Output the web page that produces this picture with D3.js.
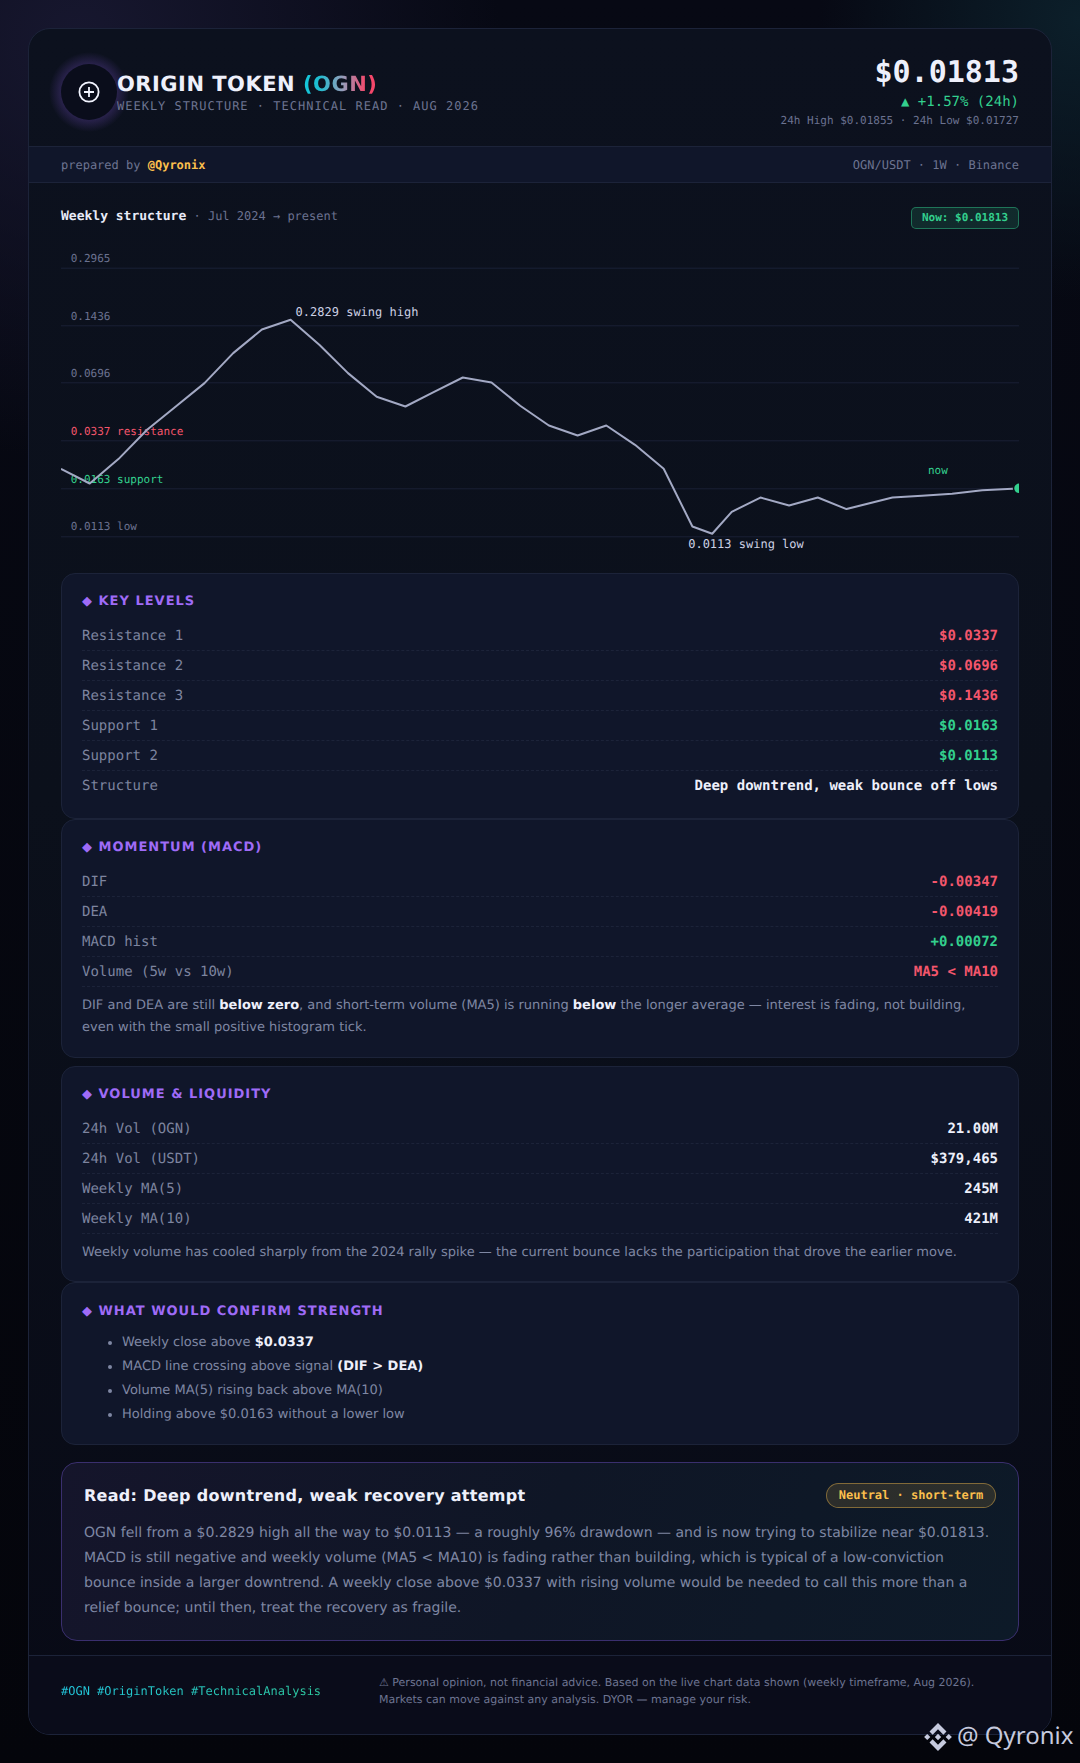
<!DOCTYPE html>
<html><head><meta charset="utf-8">
<script src="https://cdnjs.cloudflare.com/ajax/libs/d3/7.8.5/d3.min.js"></script>
<style>
*{box-sizing:border-box;margin:0;padding:0}
html,body{width:1080px;height:1763px;overflow:hidden}
body{position:relative;font-family:"DejaVu Sans",sans-serif;color:#e8ebf8;text-rendering:geometricPrecision;
background:radial-gradient(ellipse 420px 420px at 80px 40px,#17172f 0%,rgba(23,23,47,0) 100%),radial-gradient(ellipse 260px 280px at 1080px 20px,#0c1f2a 0%,rgba(12,31,42,0) 100%),linear-gradient(#070914,#04050b)}
.mono{font-family:"DejaVu Sans Mono",monospace}
.abs{position:absolute}
#card{position:absolute;left:28px;top:28px;width:1024px;height:1707px;border:1px solid #1c2339;border-radius:22px;background:linear-gradient(#0c111e 0%,#0b101b 45%,#080a16 100%)}
#strip{position:absolute;left:29px;width:1022px;top:146px;height:37px;background:#10162a;border-top:1px solid #1c2339;border-bottom:1px solid #1c2339}
.t{position:absolute;white-space:nowrap;line-height:20px}
.panel{position:absolute;left:61px;width:958px;background:#10162a;border:1px solid #1c2339;border-radius:14px;padding:18px 20px 0}
.ptitle{font-weight:700;font-size:13px;letter-spacing:1px;color:#9f6bf7;line-height:20px;margin-bottom:9px}
.row{display:flex;justify-content:space-between;height:30px;line-height:31px;font-size:14px;font-family:"DejaVu Sans Mono",monospace;border-bottom:1px dashed #1c2339}
.row.last{border-bottom:none}
.row .l{color:#7d849f}.row .v{font-weight:700}
.note{font-size:13px;line-height:22px;color:#7f87a3;margin-top:8px}
.note b,li b{color:#eef0fb}
ul{list-style:disc;margin-left:40px;margin-top:2px;color:#7f87a3;font-size:13px}
li{height:24px;line-height:24px}
#read{position:absolute;left:61px;width:958px;top:1462px;height:179px;border:1px solid #3a2f6e;border-radius:16px;background:linear-gradient(110deg,#15152b 0%,#0f1626 50%,#0d1a28 100%)}
#badge{position:absolute;left:826px;top:1483px;width:170px;height:25px;line-height:23px;text-align:center;border:1px solid rgba(251,191,77,.42);border-radius:13px;background:rgba(251,191,77,.13);color:#fbbf4d;font:700 12px/23px "DejaVu Sans Mono",monospace}
#foot{position:absolute;left:29px;width:1022px;top:1655px;height:79px;border-top:1px solid #1c2339;border-radius:0 0 21px 21px;background:#0a0c1a}
svg text{font-family:"DejaVu Sans Mono",monospace}
</style></head><body>
<div id="card"></div><div id="strip"></div><div id="foot"></div>
<div id="root"></div>
<script>
// ---- chart data ----
const axisLevels = [0.2965, 0.1436, 0.0696, 0.0337, 0.0163, 0.0113];
const axisNotes  = ["", "", "", "resistance", "support", "low"];
const weekPos = [0,1,2,3,4,5,6,7,8,9,10,11,12,13,14,15,16,17,18,19,20,21,22,22.69,23.37,24.37,25.37,26.37,27.37,28.97,30,31.05,32.1,33.15,33.38];
const closeVals = [0.0219,0.01753,0.02536,0.03843,0.05143,0.0689,0.10085,0.1361,0.1539,0.1121,0.0782,0.05806,0.05143,0.0618,0.07397,0.0695,0.05188,0.04055,0.03578,0.04055,0.03148,0.0219,0.01218,0.01152,0.01362,0.01519,0.0143,0.01519,0.01391,0.01519,0.01539,0.01565,0.01605,0.01625,0.0163];
const swingHighLabel = "0.2829 swing high";
const swingLowLabel = "0.0113 swing low";

const keyLabels = ["Resistance 1","Resistance 2","Resistance 3","Support 1","Support 2","Structure"];
const keyValues = ["$0.0337","$0.0696","$0.1436","$0.0163","$0.0113","Deep downtrend, weak bounce off lows"];
const keyTones  = ["r","r","r","g","g","w"];
const macdLabels = ["DIF","DEA","MACD hist","Volume (5w vs 10w)"];
const macdValues = ["-0.00347","-0.00419","+0.00072","MA5 < MA10"];
const macdTones  = ["r","r","g","r"];
const volLabels = ["24h Vol (OGN)","24h Vol (USDT)","Weekly MA(5)","Weekly MA(10)"];
const volValues = ["21.00M","$379,465","245M","421M"];
const volTones  = ["w","w","w","w"];
const confirmItems = ["Weekly close above <b>$0.0337</b>","MACD line crossing above signal <b>(DIF &gt; DEA)</b>","Volume MA(5) rising back above MA(10)","Holding above $0.0163 without a lower low"];

const tone = {r:"#f4566c",g:"#33d08e",w:"#eef0fb"};
const root = d3.select("#root");
function text(x,y,html,style,right){
  const s = root.append("div").attr("class","t").html(html)
    .style("top",(y-10)+"px");
  if(right) s.style("right",(1080-x)+"px"); else s.style("left",x+"px");
  Object.entries(style||{}).forEach(([k,v])=>s.style(k,v));
  return s;
}
const M='"DejaVu Sans Mono",monospace';
// header
const lg = root.append("svg").attr("class","abs").style("left","40px").style("top","43px").attr("width",98).attr("height",98).style("overflow","visible");
const defs = lg.append("defs");
const rg = defs.append("radialGradient").attr("id","glow");
rg.append("stop").attr("offset","0.7").attr("stop-color","#5a3f9a").attr("stop-opacity",.36);
rg.append("stop").attr("offset","1").attr("stop-color","#5a3f9a").attr("stop-opacity",0);
lg.append("circle").attr("cx",49).attr("cy",49).attr("r",40).attr("fill","url(#glow)");
lg.append("circle").attr("cx",49).attr("cy",49).attr("r",28).attr("fill","#0a0d1b");
lg.append("circle").attr("cx",49).attr("cy",49).attr("r",9.6).attr("fill","none").attr("stroke","#f2f4ff").attr("stroke-width",1.8);
lg.append("path").attr("d","M49 44V54M44 49H54").attr("stroke","#f2f4ff").attr("stroke-width",1.8);
text(117,83.5,'ORIGIN TOKEN <span style="background:linear-gradient(90deg,#12c7da 0%,#1fbcd0 22%,#9a9ab8 55%,#f5476a 85%);-webkit-background-clip:text;background-clip:text;color:transparent">(OGN)</span>',{"font-size":"21px","font-weight":"700","letter-spacing":".5px","color":"#eef0fb"});
text(117,105.5,'WEEKLY STRUCTURE · TECHNICAL READ · AUG 2026',{"font-family":M,"font-size":"12px","letter-spacing":"1px","color":"#6d7491"});
text(1019,73,'$0.01813',{"font-family":M,"font-size":"30px","font-weight":"700","color":"#eef0fb"},true);
text(1019,102,'▲ +1.57% (24h)',{"font-family":M,"font-size":"14px","color":"#33d08e"},true);
text(1019,121,'24h High $0.01855 · 24h Low $0.01727',{"font-family":M,"font-size":"11px","color":"#6b7290"},true);
text(61,164.5,'prepared by <b style="color:#fbbf4d">@Qyronix</b>',{"font-family":M,"font-size":"12px","color":"#6d7491"});
text(1019,164.5,'OGN/USDT · 1W · Binance',{"font-family":M,"font-size":"12px","color":"#6d7491"},true);
text(61,215.5,'<b style="font-size:13px;color:#e8ebf8">Weekly structure</b> · Jul 2024 → present',{"font-family":M,"font-size":"12px","color":"#6b7290"});
root.append("div").attr("class","abs").text("Now: $0.01813").style("left","911px").style("top","207px").style("width","108px").style("height","22px").style("line-height","21px").style("text-align","center").style("border","1px solid rgba(51,208,142,.45)").style("border-radius","5px").style("background","rgba(51,208,142,.14)").style("color","#33d08e").style("font","700 11px/20px "+M);

// chart
const W=958, top0=240, H=320;
const svg = root.append("svg").attr("class","abs").style("left","61px").style("top",top0+"px").attr("width",W).attr("height",H).style("overflow","hidden");
const y = d3.scaleLog().domain(axisLevels).range([267.7,325.3,382.3,440.3,488.3,536.3].map(v=>v-top0));
const x = d3.scaleLinear().domain([0,d3.max(weekPos)]).range([0,W]);
const ax = svg.append("g").call(d3.axisRight(y).tickValues(axisLevels).tickSize(W).tickFormat((d,i)=>d.toFixed(4)+(axisNotes[i]?" "+axisNotes[i]:"")));
ax.select(".domain").remove();
ax.selectAll("line").attr("stroke","#1a2036").attr("stroke-width",1);
ax.selectAll("text").attr("x",9.7).attr("dy",(d,i)=>i==5?-6.5:-6).attr("font-size",11).attr("font-family",M).attr("text-anchor","start")
  .attr("fill",(d,i)=>axisNotes[i]=="resistance"?"#f4566c":axisNotes[i]=="support"?"#33d08e":"#6b7290");
const pts = weekPos.map((w,i)=>[w,closeVals[i]]);
svg.append("path").attr("d",d3.line().x(d=>x(d[0])).y(d=>y(d[1]))(pts)).attr("fill","none").attr("stroke","#a3a9c4").attr("stroke-width",2).attr("stroke-linejoin","round");
const last=pts[pts.length-1], hi=pts[8], lo=pts[23];
svg.append("circle").attr("cx",x(last[0])).attr("cy",y(last[1])).attr("r",5.5).attr("fill","#33d08e").attr("stroke","#0b101b").attr("stroke-width",1.5);
svg.append("text").attr("x",x(hi[0])+5).attr("y",y(hi[1])-4).attr("font-size",12).attr("fill","#ccd0e4").text(swingHighLabel);
svg.append("text").attr("x",x(lo[0])-24).attr("y",y(lo[1])+14).attr("font-size",12).attr("fill","#ccd0e4").text(swingLowLabel);
svg.append("text").attr("x",x(last[0])-91).attr("y",y(last[1])-14).attr("font-size",11).attr("fill","#33d08e").text("now");

// panels
function panel(top,h,title,labels,values,tones,noLastLine){
  const p=root.append("div").attr("class","panel").style("top",top+"px").style("height",h+"px");
  p.append("div").attr("class","ptitle").text("◆ "+title);
  if(labels){
    const r=p.selectAll(".row").data(labels).join("div").attr("class",(d,i)=>"row"+(noLastLine&&i==labels.length-1?" last":""));
    r.append("span").attr("class","l").text(d=>d);
    r.append("span").attr("class","v").style("color",(d,i)=>tone[tones[i]]).text((d,i)=>values[i]);
  }
  return p;
}
panel(573,245.5,"KEY LEVELS",keyLabels,keyValues,keyTones,true);
panel(818.5,239,"MOMENTUM (MACD)",macdLabels,macdValues,macdTones)
  .append("div").attr("class","note").html('DIF and DEA are still <b>below zero</b>, and short-term volume (MA5) is running <b>below</b> the longer average — interest is fading, not building, even with the small positive histogram tick.');
panel(1065.5,216,"VOLUME & LIQUIDITY",volLabels,volValues,volTones)
  .append("div").attr("class","note").text('Weekly volume has cooled sharply from the 2024 rally spike — the current bounce lacks the participation that drove the earlier move.');
panel(1282,163,"WHAT WOULD CONFIRM STRENGTH").style("padding-top","19px")
  .append("ul").selectAll("li").data(confirmItems).join("li").html(d=>d);

root.append("div").attr("id","read");
text(84,1495.5,'Read: Deep downtrend, weak recovery attempt',{"font-size":"16px","font-weight":"700","letter-spacing":".3px","color":"#eef0fb"});
root.append("div").attr("id","badge").text("Neutral · short-term");
root.append("div").attr("class","abs").style("left","84px").style("top","1520.5px").style("width","912px").style("font-size","14px").style("line-height","25px").style("color","#7f87a3")
 .text("OGN fell from a $0.2829 high all the way to $0.0113 — a roughly 96% drawdown — and is now trying to stabilize near $0.01813. MACD is still negative and weekly volume (MA5 < MA10) is fading rather than building, which is typical of a low-conviction bounce inside a larger downtrend. A weekly close above $0.0337 with rising volume would be needed to call this more than a relief bounce; until then, treat the recovery as fragile.");

// footer
text(61,1691,'<span style="background:linear-gradient(90deg,#22c9e0,#2ec9a0);-webkit-background-clip:text;background-clip:text;color:transparent">#OGN #OriginToken #TechnicalAnalysis</span>',{"font-family":M,"font-size":"12px"});
root.append("div").attr("class","abs").style("left","379px").style("top","1673.5px").style("width","620px").style("font-size","11px").style("line-height","17px").style("color","#6d7491")
 .html("⚠ Personal opinion, not financial advice. Based on the live chart data shown (weekly timeframe, Aug 2026).<br>Markets can move against any analysis. DYOR — manage your risk.");

// watermark
const wm=root.append("svg").attr("class","abs").style("left","924px").style("top","1723px").attr("width",28).attr("height",28).attr("viewBox","-2 -2 132 132");
wm.append("path").attr("fill","#c6cade").attr("d","M38.73 53.2L64 27.93 89.28 53.2 103.98 38.5 64 -1.48 24.03 38.5zM-1.48 64l14.7-14.7L27.92 64l-14.7 14.7zM38.73 74.8L64 100.07 89.28 74.8l14.7 14.69L64 129.48 24.03 89.5zM100.07 64l14.7-14.7 14.71 14.7-14.7 14.7zM78.91 63.99L64 49.08 52.98 60.1l-1.27 1.27-2.63 2.62L64 78.92l14.92-14.92z");
root.append("div").attr("class","t").text("@ Qyronix").style("left","957px").style("top","1719px").style("line-height","34px").style("font-family",'"Noto Sans",sans-serif').style("font-size","24px").style("color","#c6cade");
</script>
</body></html>
